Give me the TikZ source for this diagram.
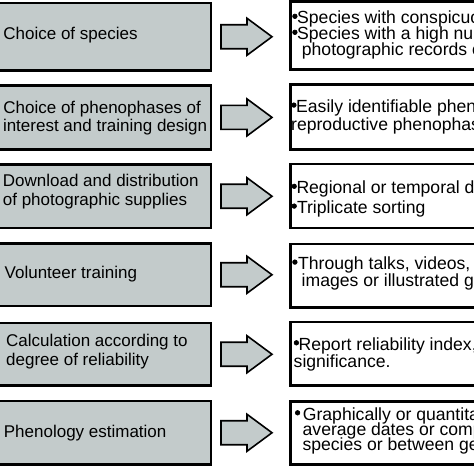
\documentclass[tikz,border=0pt]{standalone}
\usepackage{fontspec}
\setmainfont{Liberation Sans}
\usetikzlibrary{calc}
\definecolor{boxfill}{RGB}{195,203,203}
\newcommand\bsp[1]{\kern\dimexpr 4pt+#1pt\relax}
\tikzset{
  lbox/.style={draw=black, line width=2.6pt, fill=boxfill, inner sep=0pt, outer sep=0pt},
  rbox/.style={draw=black, line width=2.6pt, fill=white, inner sep=0pt, outer sep=0pt},
  ltext/.style={anchor=base west, inner sep=0pt, font=\fontsize{17}{20}\selectfont},
  rtext/.style={anchor=base west, inner sep=0pt, font=\fontsize{17.6}{20}\selectfont},
  arrowshape/.style={draw=black, line width=1.6pt, fill=boxfill, line join=miter},
  bulletdot/.style={fill=black, draw=black, line width=0.6pt},
}
\begin{document}
\begin{tikzpicture}[x=1pt,y=-1pt]
\useasboundingbox (0,0) rectangle (474,474);
\clip (0,0) rectangle (474,474);
% left boxes
\node[lbox, minimum width=214pt, minimum height=67.5pt] (L1) at (104,36.75) {};
\node[lbox, minimum width=214pt, minimum height=64.2pt] (L2) at (104,117.4) {};
\node[lbox, minimum width=214pt, minimum height=63.5pt] (L3) at (104,196.25) {};
\node[lbox, minimum width=214pt, minimum height=62.5pt] (L4) at (104,274.75) {};
\node[lbox, minimum width=214pt, minimum height=62.5pt] (L5) at (104,354.25) {};
\node[lbox, minimum width=214pt, minimum height=63.5pt] (L6) at (104,432.75) {};
% right boxes
\node[rbox, minimum width=199.5pt, minimum height=68.4pt] (R1) at (390.25,35.5) {};
\node[rbox, minimum width=199.5pt, minimum height=64.8pt] (R2) at (390.25,117.1) {};
\node[rbox, minimum width=199.5pt, minimum height=64pt] (R3) at (390.25,196) {};
\node[rbox, minimum width=199.5pt, minimum height=63.3pt] (R4) at (390.25,275.65) {};
\node[rbox, minimum width=199.5pt, minimum height=63.5pt] (R5) at (390.25,353.75) {};
\node[rbox, minimum width=199.5pt, minimum height=63.4pt] (R6) at (390.25,433) {};
% block arrows
\foreach \i in {1,...,6}{
  \draw[arrowshape] ($(L\i.east)+(10,-12)$) -- ++(26,0) -- ++(0,-6.5)
    -- ($(L\i.east)+(61,0)$) -- ($(L\i.east)+(36,18.5)$) -- ++(0,-6.5)
    -- ($(L\i.east)+(10,12)$) -- cycle;
}
% left texts
\node[ltext] (l1a) at (3.2,39.3) {Choice of species};
\node[ltext] (l2a) at (3.2,113.3) {Choice of phenophases of};
\node[ltext] (l2b) at (2.8,131.7) {interest and training design};
\node[ltext] (l3a) at (2.7,186) {Download and distribution};
\node[ltext] (l3b) at (2.7,205.5) {of photographic supplies};
\node[ltext] (l4a) at (4.5,278.3) {Volunteer training};
\node[ltext] (l5a) at (6,346) {Calculation according to};
\node[ltext] (l5b) at (6,365) {degree of reliability};
\node[ltext] (l6a) at (3.7,437.3) {Phenology estimation};
% right texts
\node[rtext] (r1a) at (292.5,23.5) {\bsp{0.5}Species with conspicuous};
\node[rtext] (r1b) at (292.5,39.5) {\bsp{0.5}Species with a high number};
\node[rtext] (r1c) at (301.7,55) {photographic records on};
\node[rtext] (r2a) at (291.5,112.3) {\bsp{0.5}Easily identifiable phenophases};
\node[rtext] (r2b) at (291,130) {reproductive phenophases};
\node[rtext] (r3a) at (291.8,193.5) {\bsp{0.5}Regional or temporal distribution};
\node[rtext] (r3b) at (291.8,213.3) {\bsp{1}Triplicate sorting};
\node[rtext] (r4a) at (292.5,269.3) {\bsp{1.5}Through talks, videos,};
\node[rtext] (r4b) at (301.5,286) {images or illustrated guides};
\node[rtext] (r5a) at (294,350) {\bsp{0.5}Report reliability index,};
\node[rtext] (r5b) at (293.5,367) {significance.};
\node[rtext] (r6a) at (295.2,420) {\bsp{3.5}Graphically or quantitatively};
\node[rtext] (r6b) at (302.5,435) {average dates or comparison};
\node[rtext] (r6c) at (302.3,450) {species or between geographic};
% bullets
\foreach \n in {r1a,r1b,r2a,r3a,r3b,r4a,r5a,r6a}{
  \filldraw[bulletdot] ($(\n.base west)+(2.4,-7.2)$) circle [radius=2.3pt];
}
\end{tikzpicture}
\end{document}
